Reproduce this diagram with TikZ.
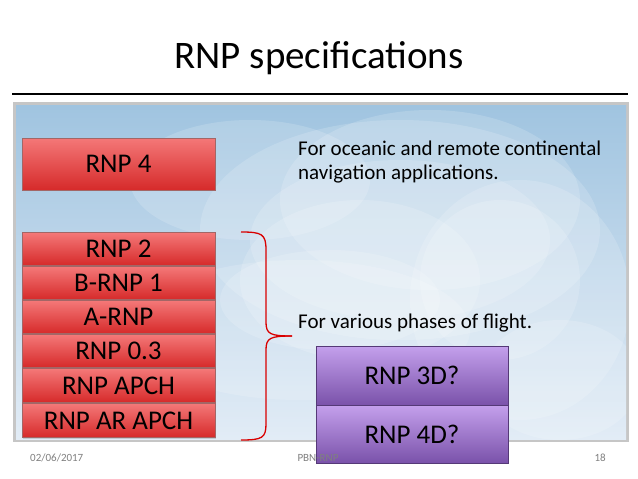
\documentclass[tikz,border=0pt]{standalone}
\usepackage{fontspec}
\setmainfont{Carlito}
\usetikzlibrary{shadows}
\definecolor{redA}{RGB}{244,120,120}
\definecolor{redB}{RGB}{214,42,42}
\definecolor{purA}{RGB}{196,160,236}
\definecolor{purB}{RGB}{122,82,170}
\definecolor{skyA}{RGB}{160,196,224}
\definecolor{skyB}{RGB}{226,236,246}
\tikzset{
 rbox/.style={draw=red!40!black!60,line width=0.4pt,top color=redA,bottom color=redB,minimum width=193pt,inner sep=0pt,font=\fontsize{27}{30}\selectfont,drop shadow={opacity=0.3,shadow xshift=1pt,shadow yshift=-1pt}},
 pbox/.style={draw=purB!70!black,line width=0.4pt,top color=purA,bottom color=purB,minimum width=192pt,inner sep=0pt,font=\fontsize{27}{30}\selectfont,drop shadow={opacity=0.3,shadow xshift=1pt,shadow yshift=-1pt}},
 body/.style={anchor=west,font=\fontsize{21}{24}\selectfont,align=left,inner sep=0pt},
 foot/.style={font=\fontsize{11}{12}\selectfont,text=gray,inner sep=0pt}
}
\begin{document}
\begin{tikzpicture}[x=1pt,y=-1pt]
\useasboundingbox (0,0) rectangle (638,479);
\fill[white] (0,0) rectangle (638,479);
\node (title) at (319,58) {\fontsize{39}{42}\selectfont RNP specifications};
\draw[line width=1.8pt] (12,94) -- (628,94);
\fill[gray!45] (13,102) rectangle (629,442);
\shade[top color=skyA,bottom color=skyB] (16,105) rectangle (626,439);
\begin{scope}
\clip (16,105) rectangle (626,439);
\foreach \x/\y/\a/\b in {400/230/200/110,300/330/170/70,520/300/110/120,250/180/120/60,430/200/150/90,360/280/120/80,560/380/80/60}
  \fill[white,opacity=0.16] (\x,\y) ellipse (\a pt and \b pt);
\foreach \x/\y/\a/\b in {400/240/150/80,330/300/110/50,500/280/80/80}
  \fill[white,opacity=0.16] (\x,\y) ellipse (\a pt and \b pt);
\end{scope}
\node[rbox,minimum height=52pt] (r4) at (118.5,164) {RNP 4};
\node[rbox,minimum height=33pt] (r2) at (118.5,249) {RNP 2};
\node[rbox,minimum height=33pt] (b1) at (118.5,283) {B-RNP 1};
\node[rbox,minimum height=33pt] (ar) at (118.5,317) {A-RNP};
\node[rbox,minimum height=33pt] (r03) at (118.5,351) {RNP 0.3};
\node[rbox,minimum height=34pt] (apch) at (118.5,385.5) {RNP APCH};
\node[rbox,minimum height=34pt] (arapch) at (118.5,420.5) {RNP AR APCH};
\coordinate (bt) at (241,232);
\coordinate (bb) at (241,440);
\coordinate (tip) at (292,336);
\draw[red!85!black,line width=1.3pt] (bt) .. controls (262,232) and (266,234) .. (266,250) -- (266,322) .. controls (266,334) and (270,336) .. (tip);
\draw[red!85!black,line width=1.3pt] (tip) .. controls (270,336) and (266,338) .. (266,350) -- (266,424) .. controls (266,438) and (262,440) .. (bb);
\node[body] (t1) at (298,162) {For oceanic and remote continental\\navigation applications.};
\node[body] (t2) at (298,323) {For various phases of flight.};
\node[pbox,minimum height=59pt] (r3d) at (412,375.5) {RNP 3D?};
\node[pbox,minimum height=58pt] (r4d) at (412,434) {RNP 4D?};
\node[foot,anchor=west] (f1) at (30,458) {02/06/2017};
\node[foot] (f2) at (318,458) {PBN-RNP};
\node[foot,anchor=east] (f3) at (606,458) {18};
\end{tikzpicture}
\end{document}
